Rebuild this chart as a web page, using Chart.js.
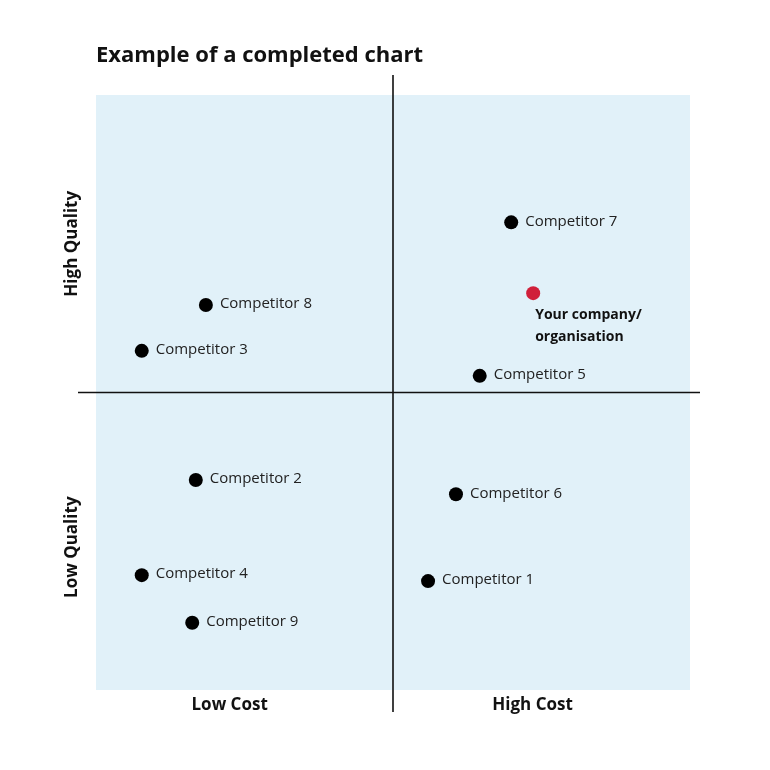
<!DOCTYPE html>
<html><head><meta charset="utf-8">
<script src="https://cdn.jsdelivr.net/npm/chart.js@4"></script>
<style>html,body{margin:0;padding:0;background:#fff}#w{width:770px;height:770px}</style>
</head><body><div id="w"><canvas id="c"></canvas></div>
<script>
const names = ["Competitor 7","Your company/\norganisation","Competitor 8","Competitor 3","Competitor 5","Competitor 2","Competitor 6","Competitor 4","Competitor 1","Competitor 9"];
const costVals = [6.99,7.36,1.85,0.77,6.46,1.68,6.06,0.77,5.59,1.62];
const qualityVals = [7.86,6.67,6.47,5.70,5.28,3.53,3.29,1.93,1.83,1.13];
const quadrantLabelsX = ["Low Cost","High Cost"];
const quadrantLabelsY = ["High Quality","Low Quality"];
const FONT = "'Open Sans', 'Noto Sans', sans-serif";

const deco = {
  id:'deco',
  beforeDatasetsDraw(ch){
    const {ctx, chartArea:a, scales:{x,y}} = ch;
    ctx.save();
    ctx.fillStyle='#e1f1f9';
    ctx.fillRect(a.left,a.top,a.right-a.left,a.bottom-a.top);
    ctx.strokeStyle='#111'; ctx.lineWidth=1.6;
    const cx=x.getPixelForValue(5), cy=y.getPixelForValue(5);
    ctx.beginPath(); ctx.moveTo(cx,a.top-20); ctx.lineTo(cx,a.bottom+22);
    ctx.moveTo(a.left-18,cy); ctx.lineTo(a.right+10,cy); ctx.stroke();
    ctx.fillStyle='#111';
    ctx.font="bold 22px "+FONT; ctx.textBaseline='alphabetic'; ctx.textAlign='left';
    ctx.fillText("Example of a completed chart", a.left, 62);
    ctx.font="bold 17px "+FONT; ctx.textAlign='center'; ctx.textBaseline='middle';
    ctx.fillText(quadrantLabelsX[0], x.getPixelForValue(2.25), 705);
    ctx.fillText(quadrantLabelsX[1], x.getPixelForValue(7.35), 705);
    [[quadrantLabelsY[0],7.5],[quadrantLabelsY[1],2.4]].forEach(([t,v])=>{
      ctx.save(); ctx.translate(72,y.getPixelForValue(v)); ctx.rotate(-Math.PI/2);
      ctx.fillText(t,0,0); ctx.restore();
    });
    ctx.restore();
  },
  afterDatasetsDraw(ch){
    const {ctx} = ch; const meta=ch.getDatasetMeta(0);
    ctx.save(); ctx.textBaseline='middle'; ctx.textAlign='left'; ctx.fillStyle='#222';
    meta.data.forEach((p,i)=>{
      if(i===1){
        ctx.font="bold 14px "+FONT; ctx.fillStyle='#111';
        names[i].split("\n").forEach((l,k)=>ctx.fillText(l,p.x+2,p.y+22+k*22));
        ctx.fillStyle='#222';
      } else {
        ctx.font="15px "+FONT;
        ctx.fillText(names[i],p.x+14,p.y-1);
      }
    });
    ctx.restore();
  }
};

new Chart(document.getElementById('c'),{
  type:'scatter',
  data:{datasets:[{data:costVals.map((v,i)=>({x:v,y:qualityVals[i]})),
    pointRadius:7,pointHoverRadius:7,borderWidth:0,
    backgroundColor:costVals.map((_,i)=>i===1?'#d0203a':'#000')}]},
  options:{responsive:true,maintainAspectRatio:false,animation:false,
    layout:{padding:{left:96,right:80,top:95,bottom:80}},
    plugins:{legend:{display:false},tooltip:{enabled:false}},
    scales:{x:{display:false,min:0,max:10},y:{display:false,min:0,max:10}}},
  plugins:[deco]
});
</script></body></html>
